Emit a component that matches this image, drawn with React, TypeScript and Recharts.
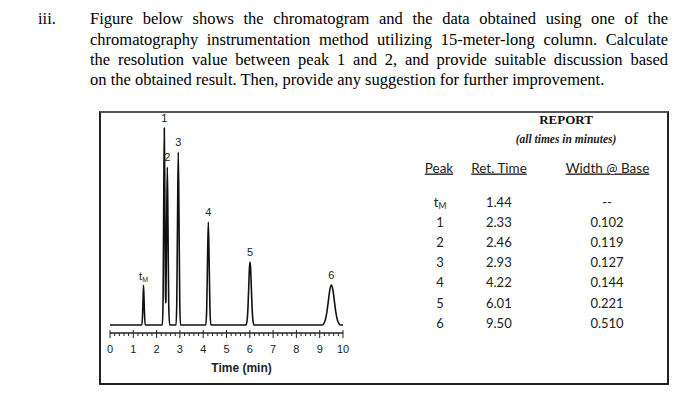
import React from 'react';
import { LineChart, Line, XAxis, YAxis, ReferenceDot } from 'recharts';

// ---------- data ----------
const PARA_LINES = [
  'Figure below shows the chromatogram and the data obtained using one of the',
  'chromatography instrumentation method utilizing 15-meter-long column. Calculate',
  'the resolution value between peak 1 and 2, and provide suitable discussion based',
  'on the obtained result. Then, provide any suggestion for further improvement.',
];

// chromatogram trace (time in min, signal in arbitrary units)
const TRACE_TIME = [
  0, 1.37, 1.405, 1.44, 1.475, 1.51,
  2.25, 2.279, 2.305, 2.33, 2.356, 2.381, 2.392, 2.40, 2.43, 2.46, 2.49, 2.52, 2.56,
  2.835, 2.866, 2.898, 2.93, 2.962, 2.994, 3.025,
  4.11, 4.148, 4.184, 4.22, 4.256, 4.292, 4.33,
  5.844, 5.9, 5.927, 5.955, 5.982, 6.01, 6.038, 6.065, 6.093, 6.12, 6.176,
  9.118, 9.181, 9.245, 9.309, 9.373, 9.436, 9.5, 9.564, 9.628, 9.691, 9.755, 9.819, 9.882,
  10,
];
const TRACE_SIGNAL = [
  0, 0, 15, 40, 15, 0,
  0, 27, 120, 197, 120, 31, 22, 25, 96, 158, 96, 21, 0,
  0, 23, 105, 173, 105, 23, 0,
  0, 14, 62, 103, 62, 14, 0,
  0, 8.5, 20.5, 38, 55.6, 63, 55.6, 38, 20.5, 8.5, 0,
  0, 1.8, 5.4, 13, 24.3, 35.3, 40, 35.3, 24.3, 13, 5.4, 1.8, 0,
  0,
];

const PEAK_NAMES = ['tM', '1', '2', '3', '4', '5', '6'];
const PEAK_TIMES = [1.44, 2.33, 2.46, 2.93, 4.22, 6.01, 9.5];
const PEAK_HEIGHTS = [40, 197, 158, 173, 103, 63, 40];

const RET_TIMES = ['1.44', '2.33', '2.46', '2.93', '4.22', '6.01', '9.50'];
const BASE_WIDTHS = ['--', '0.102', '0.119', '0.127', '0.144', '0.221', '0.510'];

const MAJOR_TICKS = [0, 1, 2, 3, 4, 5, 6, 7, 8, 9, 10];
const MINOR_STEP = 0.2;

// ---------- derived ----------
const traceData = TRACE_TIME.map((t, i) => ({ t, s: TRACE_SIGNAL[i] }));
const allTicks: number[] = [];
for (let i = 0; i <= Math.round(10 / MINOR_STEP); i++) allTicks.push(Math.round(i * MINOR_STEP * 10) / 10);

const SANS = '"Liberation Sans", Arial, sans-serif';
const SERIF = '"Liberation Serif", "Times New Roman", serif';
const CAL = 'Lato, "Open Sans", sans-serif';

const AxisTick = (props: any) => {
  const { x, y, payload } = props;
  const v = payload.value as number;
  const major = MAJOR_TICKS.some((m) => Math.abs(m - v) < 1e-6);
  return (
    <g>
      <line x1={x} x2={x} y1={major ? y - 3 : y} y2={major ? y + 5 : y + 3} stroke="#222" strokeWidth={1} />
      {major && (
        <text x={x} y={y + 20} textAnchor="middle" fontSize={11} fill="#222" fontFamily={SANS}>
          {String(v)}
        </text>
      )}
    </g>
  );
};

const peakLabel = (name: string) => (p: any) => {
  const { cx, cy } = p;
  if (name === 'tM') {
    return (
      <text x={cx} y={cy - 5} textAnchor="middle" fontSize={11} fill="#222" fontFamily={SANS}>
        t<tspan fontSize={7} dy={2}>M</tspan>
      </text>
    );
  }
  return (
    <text x={cx} y={cy - 6} textAnchor="middle" fontSize={11} fill="#222" fontFamily={SANS}>
      {name}
    </text>
  );
};

export default function App() {
  return (
    <div style={{ position: 'absolute', left: 0, top: 0, width: 695, height: 398, background: '#fff', overflow: 'hidden' }}>
      <div style={{ position: 'absolute', left: 38, top: 9.3, fontFamily: SERIF, fontSize: 16.5, lineHeight: '20.3px', color: '#000' }}>iii.</div>
      {PARA_LINES.map((line, i) => (
        <div
          key={i}
          style={{
            position: 'absolute',
            left: 90,
            top: 9.3 + i * 20.3,
            width: 578,
            fontFamily: SERIF,
            fontSize: 16.5,
            lineHeight: '20.3px',
            color: '#000',
            whiteSpace: 'nowrap',
            textAlign: i < 3 ? 'justify' : 'left',
            textAlignLast: i < 3 ? 'justify' : 'left',
          }}
        >
          {line}
        </div>
      ))}

      <div
        style={{
          position: 'absolute',
          left: 99,
          top: 111,
          width: 570,
          height: 274,
          boxSizing: 'border-box',
          border: '2px solid #222',
          borderTopColor: '#555',
        }}
      />

      <div style={{ position: 'absolute', left: 100, top: 112 }}>
        <LineChart width={260} height={272} data={traceData} margin={{ top: 8, right: 17, left: 10, bottom: 11 }}>
          <XAxis
            dataKey="t"
            type="number"
            domain={[0, 10]}
            ticks={allTicks}
            interval={0}
            tickSize={0}
            tickMargin={0}
            tickLine={false}
            tick={<AxisTick />}
            axisLine={{ stroke: '#222', strokeWidth: 1.5 }}
            height={40}
            label={{
              content: (lp: any) => {
                const vb = lp.viewBox || {};
                return (
                  <text x={vb.x + vb.width / 2 + 15} y={vb.y + 38.5} textAnchor="middle" fontSize={12} fontWeight="bold" fill="#222" fontFamily={SANS}>
                    Time (min)
                  </text>
                );
              },
            }}
          />
          <YAxis hide type="number" domain={[-8, 205]} />
          <Line
            type="monotone"
            dataKey="s"
            stroke="#111"
            strokeWidth={1.6}
            dot={false}
            activeDot={false}
            isAnimationActive={false}
          />
          {PEAK_NAMES.map((n, i) => (
            <ReferenceDot key={n} x={PEAK_TIMES[i]} y={PEAK_HEIGHTS[i]} r={0} shape={peakLabel(n)} />
          ))}
        </LineChart>
      </div>

      <svg style={{ position: 'absolute', left: 0, top: 0 }} width={695} height={398}>
        <text x={566} y={124} textAnchor="middle" fontFamily={SERIF} fontWeight="bold" fontSize={13} fill="#111">REPORT</text>
        <text x={566} y={143} textAnchor="middle" fontFamily={SERIF} fontStyle="italic" fontWeight="bold" fontSize={11.5} fill="#222">(all times in minutes)</text>
        <text x={439} y={172.5} textAnchor="middle" fontFamily={CAL} fontSize={13.5} fill="#222" style={{ textDecoration: 'underline' }}>Peak</text>
        <text x={499} y={172.5} textAnchor="middle" fontFamily={CAL} fontSize={13.5} fill="#222" style={{ textDecoration: 'underline' }}>Ret. Time</text>
        <text x={607.5} y={172.5} textAnchor="middle" fontFamily={CAL} fontSize={13.5} fill="#222" style={{ textDecoration: 'underline' }}>Width @ Base</text>
        {PEAK_NAMES.map((n, i) => (
          <g key={n}>
            <text x={440} y={207 + i * 20.1} textAnchor="middle" fontFamily={CAL} fontSize={13} fill="#222">
              {n === 'tM' ? (
                <>
                  t<tspan fontSize={8.5} dy={2}>M</tspan>
                </>
              ) : (
                n
              )}
            </text>
            <text x={486} y={207 + i * 20.1} textAnchor="start" fontFamily={CAL} fontSize={13} fill="#222">{RET_TIMES[i]}</text>
            <text x={607} y={207 + i * 20.1} textAnchor="middle" fontFamily={CAL} fontSize={13} fill="#222">{BASE_WIDTHS[i]}</text>
          </g>
        ))}
      </svg>
    </div>
  );
}
